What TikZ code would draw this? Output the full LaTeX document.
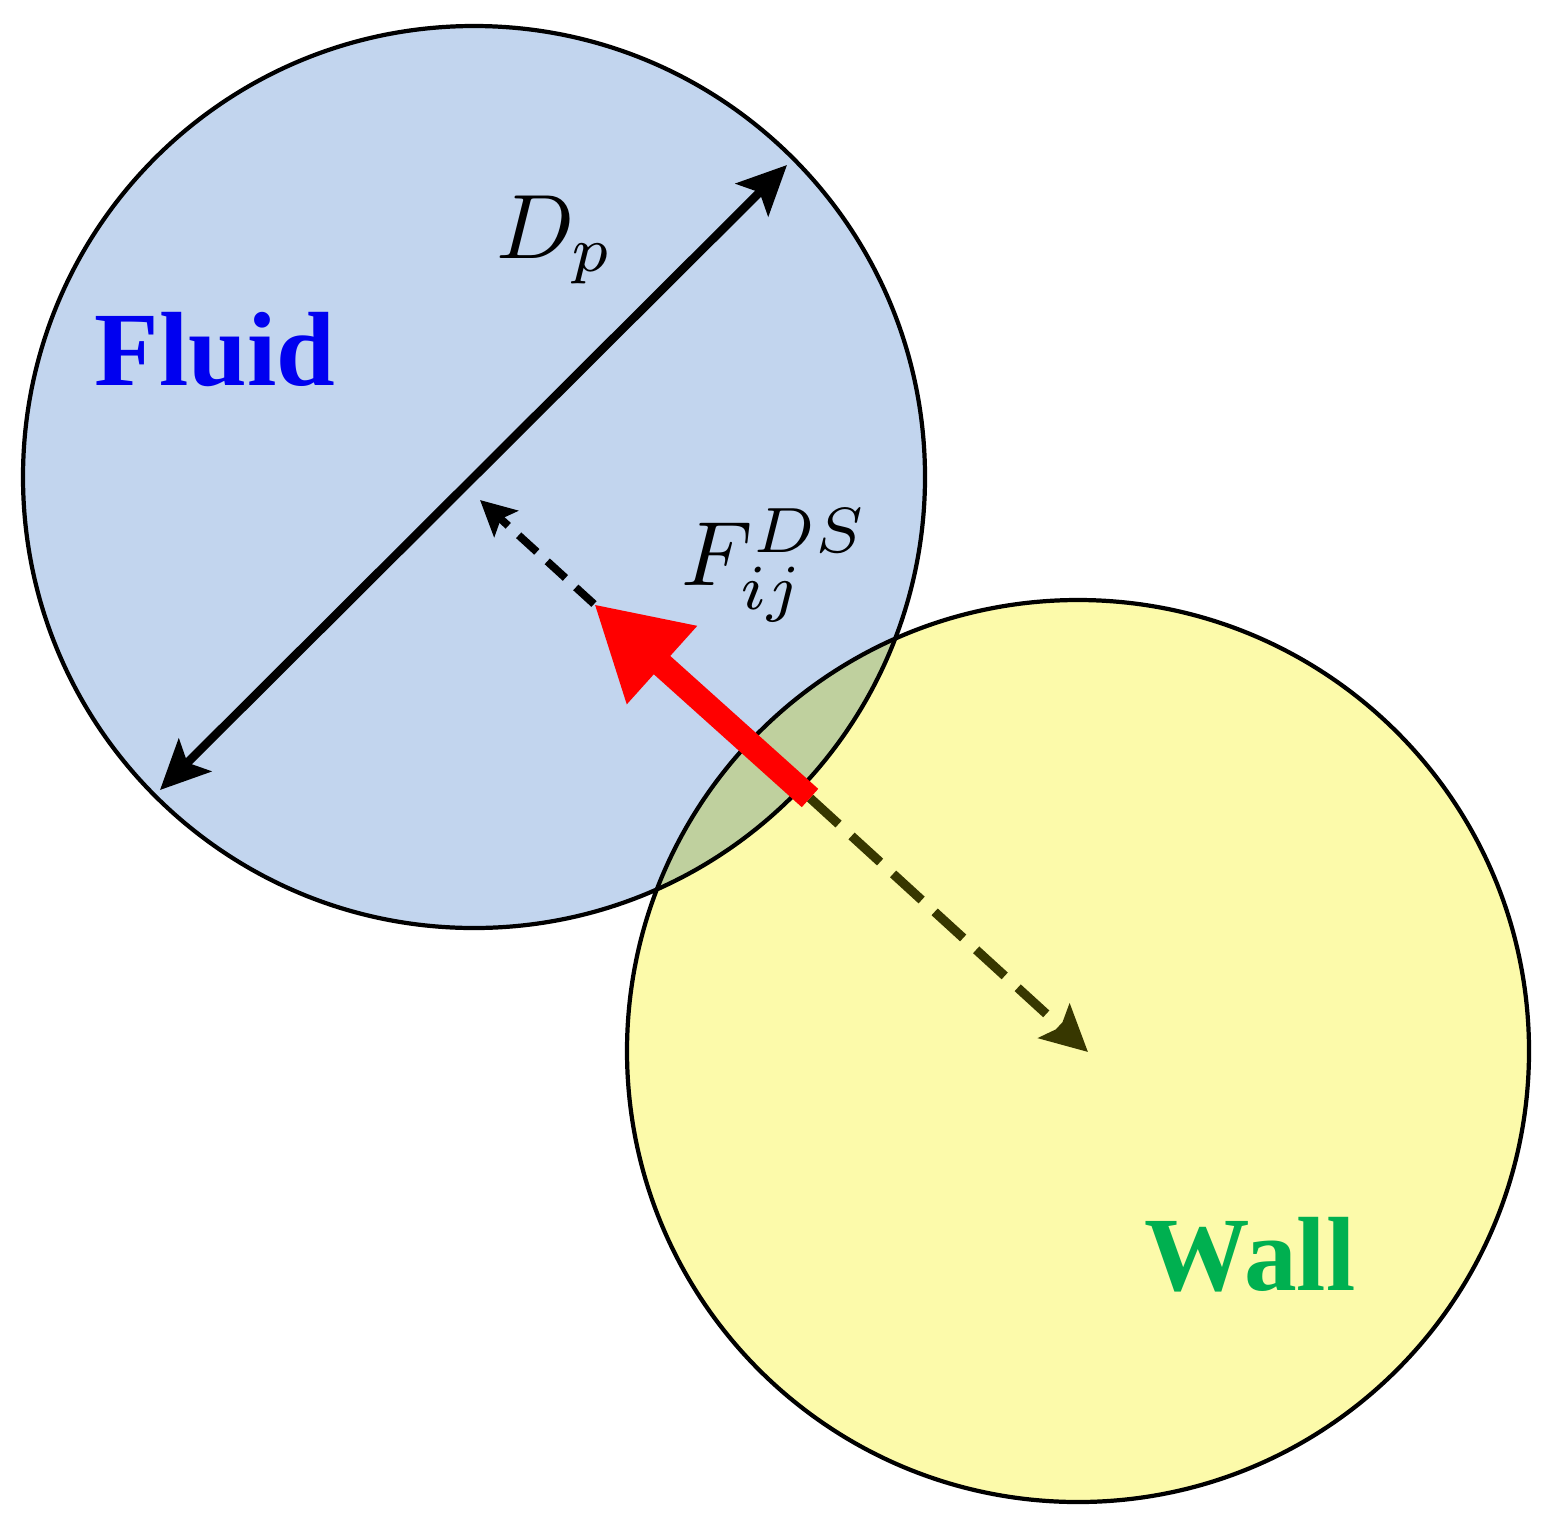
\documentclass[tikz,border=0pt]{standalone}
\usepackage{fontspec}
\setmainfont{Liberation Serif}
\usetikzlibrary{arrows.meta}
\definecolor{fluidc}{RGB}{194,213,238}
\definecolor{wallc}{RGB}{252,250,170}
\definecolor{olive}{RGB}{55,55,0}
\definecolor{fluidtxt}{RGB}{0,0,240}
\definecolor{walltxt}{RGB}{0,176,80}
\tikzset{circ/.style={draw=black,line width=1.2pt},
 lbl/.style={font=\bfseries\fontsize{30}{32}\selectfont}}
\begin{document}
\begin{tikzpicture}[x=0.01cm,y=-0.01cm]
\useasboundingbox (0,0) rectangle (1567,1536);
\fill[white] (0,0) rectangle (1567,1536);
\draw[circ,fill=fluidc] (474,477) circle (451);
\begin{scope}[blend mode=multiply]
\fill[wallc] (1078,1051) circle (451);
\end{scope}
\draw[circ] (1078,1051) circle (451);
\coordinate (d1) at (160,790);
\coordinate (d2) at (787,165);
\draw[line width=2.4pt,{Stealth[length=14pt,width=13pt,inset=3pt]}-{Stealth[length=14pt,width=13pt,inset=3pt]}] (d1) -- (d2);
\coordinate (c) at (810,798);
\coordinate (rt) at (594,604);
\coordinate (ft) at (480,500);
\coordinate (wt) at (1088,1052);
\draw[line width=2.2pt,dash pattern=on 7pt off 4pt,-{Stealth[length=10pt,width=10pt,inset=2pt]}] (rt) -- (ft);
\draw[line width=2.6pt,olive,dash pattern=on 11pt off 5pt,-{Stealth[length=13pt,width=13pt,inset=2.5pt]}] (c) -- (wt);
\draw[line width=7pt,red,-{Triangle[length=26pt,width=28pt]}] (c) -- (rt);
\node[scale=2.6] (dp) at (555,240) {$D_p$};
\node[scale=2.6] (f) at (775,565) {$F_{ij}^{DS}$};
\node[lbl,text=fluidtxt] (fl) at (215,350) {Fluid};
\node[lbl,text=walltxt] (wl) at (1250,1255) {Wall};
\end{tikzpicture}
\end{document}
